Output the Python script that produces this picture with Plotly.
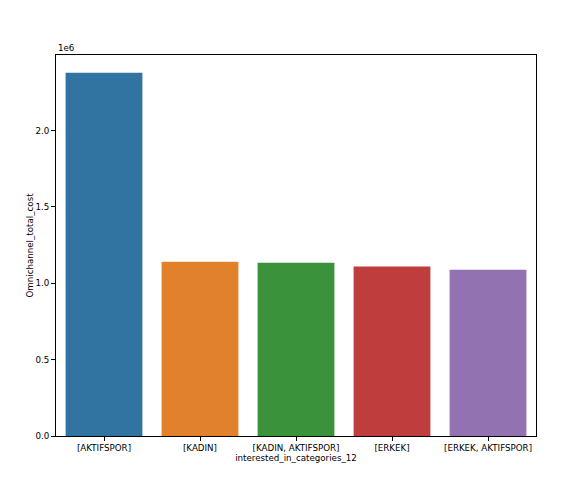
import plotly.graph_objects as go

# Categories and values
categories = ['[AKTIFSPOR]', '[KADIN]', '[KADIN, AKTIFSPOR]', '[ERKEK]', '[ERKEK, AKTIFSPOR]']
total_cost = [2377000, 1141000, 1134000, 1110000, 1088000]
bar_colors = ['#3274a1', '#e1812c', '#3a923a', '#c03d3e', '#9372b2']

y_tickvals = [0, 500000, 1000000, 1500000, 2000000]
y_ticktext = ['0.0', '0.5', '1.0', '1.5', '2.0']

fig = go.Figure()
fig.add_trace(go.Bar(
    x=categories,
    y=total_cost,
    marker=dict(color=bar_colors, line=dict(width=0)),
    width=0.8,
))

axis_style = dict(
    showline=True, linecolor='black', linewidth=1, mirror=True,
    ticks='outside', ticklen=4, tickcolor='black',
    showgrid=False, zeroline=False,
    tickfont=dict(size=8.7, color='black'),
)

# page adds 8px body margin, so margins are shifted to compensate
fig.update_layout(
    width=580, height=477,
    margin=dict(l=48, r=52, t=47, b=49),
    plot_bgcolor='white', paper_bgcolor='white',
    font=dict(family='DejaVu Sans', size=8.7, color='black'),
    showlegend=False,
    bargap=0.2,
    xaxis=dict(axis_style, range=[-0.5, 4.5],
               title=dict(text='interested_in_categories_12', standoff=2,
                          font=dict(size=8.7))),
    yaxis=dict(axis_style, range=[0, 2494000],
               tickvals=y_tickvals, ticktext=y_ticktext,
               title=dict(text='Omnichannel_total_cost', standoff=0,
                          font=dict(size=8.7))),
)

# matplotlib style offset text
fig.add_annotation(text='1e6', xref='paper', yref='paper', x=0, y=1,
                   xanchor='left', yanchor='bottom', showarrow=False,
                   font=dict(size=8.7, color='black'))

fig.write_html("out.html")
